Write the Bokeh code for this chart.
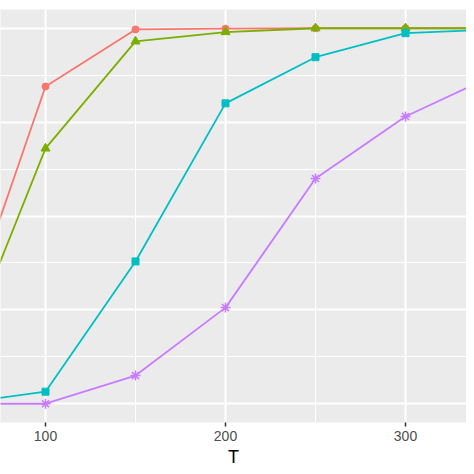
from bokeh.plotting import figure
from bokeh.models import FixedTicker, Range1d
from bokeh.embed import file_html
from bokeh.resources import INLINE

T = [50, 100, 150, 200, 250, 300, 350]
series_red = [0.15, 0.845, 0.997, 0.999, 1.0, 1.0, 1.0]
series_green = [0.08, 0.68, 0.965, 0.99, 1.0, 1.0, 1.0]
series_cyan = [0.0, 0.032, 0.379, 0.80, 0.923, 0.987, 0.997]
series_purple = [0.0, 0.0, 0.075, 0.256, 0.60, 0.765, 0.877]
x_ticks = [100, 200, 300]
x_minor = [50, 150, 250, 350]
y_ticks = [0.0, 0.25, 0.5, 0.75, 1.0]
y_minor = [0.125, 0.375, 0.625, 0.875]

p = figure(frame_width=466, frame_height=413, output_backend="svg",
           toolbar_location=None, x_range=Range1d(75, 75 + 466 / 1.8),
           y_range=Range1d(-0.05, 1.05), min_border_left=0,
           min_border_right=0, min_border_top=9, min_border_bottom=0)

p.background_fill_color = "#EBEBEB"
p.border_fill_color = "white"
p.outline_line_color = None

p.yaxis.visible = False
p.xaxis.ticker = FixedTicker(ticks=x_ticks, minor_ticks=x_minor)
p.xgrid.ticker = FixedTicker(ticks=x_ticks, minor_ticks=x_minor)
p.ygrid.ticker = FixedTicker(ticks=y_ticks, minor_ticks=y_minor)
for g in (p.xgrid, p.ygrid):
    g.grid_line_color = "white"
    g.grid_line_width = 2
    g.minor_grid_line_color = "white"
    g.minor_grid_line_width = 1

ax = p.xaxis[0]
ax.axis_line_color = None
ax.major_tick_line_color = "#333333"
ax.major_tick_line_width = 1.5
ax.major_tick_out = 4
ax.major_tick_in = 0
ax.minor_tick_line_color = None
ax.major_label_text_color = "#4D4D4D"
ax.major_label_text_font = "Liberation Sans"
ax.major_label_text_font_size = "14px"
ax.major_label_standoff = 4
ax.axis_label = "T"
ax.axis_label_text_font = "Liberation Sans"
ax.axis_label_text_font_size = "18px"
ax.axis_label_text_font_style = "normal"
ax.axis_label_text_color = "black"
ax.axis_label_standoff = 3

lw = 1.8
p.line(T, series_red, line_color="#F8766D", line_width=lw)
p.scatter(T, series_red, marker="circle", size=7, color="#F8766D")
p.line(T, series_green, line_color="#7CAE00", line_width=lw)
p.scatter(T, series_green, marker="triangle", size=9, color="#7CAE00")
p.line(T, series_cyan, line_color="#00BFC4", line_width=lw)
p.scatter(T, series_cyan, marker="square", size=7, color="#00BFC4")
p.line(T, series_purple, line_color="#C77CFF", line_width=lw)
p.scatter(T, series_purple, marker="asterisk", size=10, line_color="#C77CFF", line_width=1.5)

open("out.html", "w").write(file_html(p, INLINE))
